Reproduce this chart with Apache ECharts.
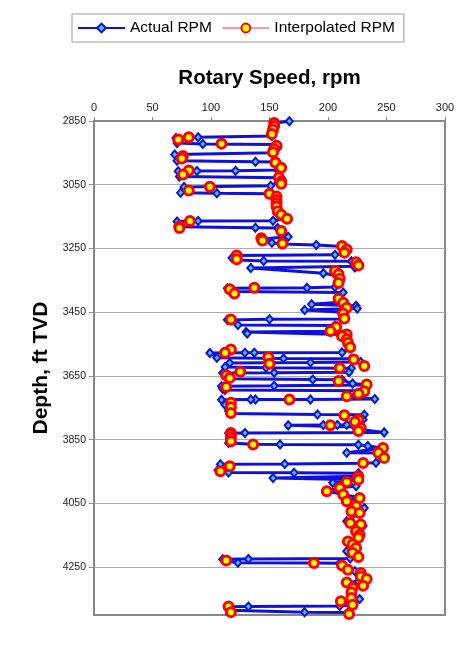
<!DOCTYPE html>
<html><head><meta charset="utf-8">
<script src="https://cdn.jsdelivr.net/npm/echarts@6/dist/echarts.min.js"></script>
<style>html,body{margin:0;padding:0;background:#fff}#c{width:474px;height:645px}</style>
</head><body><div id="c"></div>
<script>
// Actual RPM (blue diamonds), in depth order
const actualDepth = [
2851,2856,2875,2897,2901,2903,2919,2922,2924,2935,2950,2955,2975,2978,2979,2995,3004,3006,3007,3008,
3024,3028,3040,3053,3057,3075,3077,3078,3090,3110,3130,3145,3157,3163,3164,3165,3182,3185,3186,3195,
3213,3220,3232,3236,3239,
3244,3258,3265,3270,3272,3280,3286,3289,3290,3298,3306,3310,3311,3328,3335,3348,3360,3371,3373,3375,
3385,3388,3405,3418,3425,3430,3438,3443,3450,3466,3471,3472,3474,3490,3492,3500,3510,3512,3517,3520,
3535,3550,3562,3576,3577,3577,3578,3593,3595,3596,3600,3606,3608,3609,3622,3624,3626,3638,3640,3641,
3650,3659,3661,3662,3674,3678,3681,3682,3690,3694,3696,3706,3713,3722,3724,3724,3724,3725,3740,3760,
3768,3771,3772,3785,3787,3803,3804,3804,3805,3810,3818,3827,3829,3830,
3845,3860,3864,3865,3866,3870,3876,3891,3892,3905,3922,3924,3926,3927,3945,3953,3954,3955,3965,3970,
3976,3985,3986,3996,4001,4011,4022,4032,4043,
4058,4064,4075,4080,4106,4111,4121,4137,4148,4158,4169,4179,4190,4200,4205,4218,4223,4224,4225,4230,
4236,4237,4238,4245,4258,4263,4270,4279,4287,4294,4298,4308,4315,4329,4347,4350,4357,4368,4372,4373,
4374,4385,4390,4391,4392,4397
];
const actualRpm = [
167,155,153,152,89,70,71,93,155,157,153,69,71,138,156,160,157,121,88,72,
73,160,158,151,77,74,105,150,156,156,157,160,165,153,89,71,72,138,157,160,
166,143,152,160,190,
213,216,214,206,120,118,122,145,220,225,224,223,134,196,207,210,208,206,182,114,
118,213,210,213,186,224,225,180,213,214,212,150,114,123,206,207,203,130,131,212,
216,218,219,212,137,129,99,105,162,220,223,228,185,116,112,147,220,218,154,110,
113,116,187,212,221,234,154,109,110,112,231,226,216,240,185,138,134,109,112,115,
117,191,231,226,230,216,208,196,166,223,228,248,129,115,
117,115,136,159,226,234,247,216,243,248,241,230,163,108,106,115,171,226,226,153,
226,204,216,224,210,199,213,227,216,
224,231,220,227,216,219,230,224,227,226,217,221,224,216,221,226,219,132,110,112,
123,188,210,212,217,223,228,228,233,226,216,230,221,220,220,227,211,221,210,132,
114,116,117,180,217,218
];
// Interpolated RPM (red/yellow circles)
const interpDepth = [
2856,2866,2877,2891,2901,2908,2921,2928,2938,2948,2960,2968,2980,2997,3005,3018,3027,3040,3047,3056,
3068,3078,3087,3098,3108,3118,3133,3144,3157,3164,3180,3186,3195,3218,3225,3234,
3242,3253,3263,3272,3284,3293,3303,3321,3331,3345,3358,3373,3378,3391,3408,3420,3436,3454,3470,3473,
3496,3509,3520,
3525,3535,3546,3560,3567,3577,3591,3598,3612,3619,3625,3637,3648,3656,3666,3677,3685,3698,3706,3714,
3724,3734,3748,3766,3773,3787,3794,3805,3813,3823,3829,
3834,3844,3855,3865,3876,3891,3907,3923,3933,3949,3965,3975,3983,4001,4012,4022,4033,4043,
4059,4075,4080,4111,4116,4137,4148,4158,4169,4179,4190,4205,4218,4229,4237,4245,4258,4268,4279,4287,
4298,4308,4315,4329,4347,4357,4368,4373,4391,4397
];
const interpRpm = [
154,154,153,152,81,72,109,156,154,153,76,75,155,160,81,76,158,160,160,99,
81,150,156,156,156,156,157,160,165,82,73,73,160,143,144,161,
212,216,214,122,122,224,226,206,209,210,209,137,116,120,209,213,216,213,214,117,
207,202,216,
212,216,217,219,117,112,149,222,150,231,210,125,113,116,209,233,113,231,226,216,
167,117,117,117,214,226,223,202,228,226,117,
117,117,117,136,247,243,248,230,116,108,226,226,216,210,199,213,227,216,
224,220,227,219,228,224,227,226,217,221,224,221,226,113,188,212,217,228,228,233,
216,230,221,220,220,211,221,115,117,218
];
const depthTicks = [2850,3050,3250,3450,3650,3850,4050,4250];
const rpmMin = 0, rpmMax = 300, rpmStep = 50;
const depthMin = 2850, depthMax = 4400;

const font = '"Liberation Sans", Arial, sans-serif';
const actualData = actualDepth.map((d, i) => [actualRpm[i], d]);
const interpData = interpDepth.map((d, i) => [interpRpm[i], d]);

const chart = echarts.init(document.getElementById('c'), null, {renderer: 'canvas'});
chart.setOption({
  animation: false,
  backgroundColor: '#fff',
  legend: {
    left: 72, top: 14,
    padding: [6, 9, 6, 5],
    itemGap: 10, itemWidth: 47, itemHeight: 11,
    borderColor: '#999', borderWidth: 1,
    textStyle: {fontFamily: font, fontSize: 15.5, color: '#000'},
    data: [
      {name: 'Actual RPM'},
      {name: 'Interpolated RPM', lineStyle: {color: '#ff3030', width: 1, opacity: 1}}
    ]
  },
  grid: {left: 94, right: 29, top: 121, bottom: 30, show: true, borderColor: '#888', borderWidth: 2},
  xAxis: {
    type: 'value', position: 'top', min: rpmMin, max: rpmMax, interval: rpmStep,
    name: 'Rotary Speed, rpm', nameLocation: 'middle', nameGap: 32,
    nameTextStyle: {fontFamily: font, fontSize: 20.5, fontWeight: 'bold', color: '#000'},
    axisLine: {show: true, lineStyle: {color: '#888', width: 2}},
    axisTick: {show: true, length: 4, lineStyle: {color: '#888'}},
    axisLabel: {fontFamily: font, fontSize: 11, color: '#222', margin: 8},
    splitLine: {show: false}
  },
  yAxis: {
    type: 'value', inverse: true, min: depthMin, max: depthMax,
    name: 'Depth, ft TVD', nameLocation: 'middle', nameGap: 40, nameRotate: 90,
    nameTextStyle: {fontFamily: font, fontSize: 21, fontWeight: 'bold', color: '#000'},
    axisLine: {show: true, lineStyle: {color: '#888', width: 2}},
    axisTick: {show: true, length: 5, customValues: depthTicks, lineStyle: {color: '#888'}},
    axisLabel: {customValues: depthTicks, formatter: v => String(v), fontFamily: font, fontSize: 10.5, color: '#222', margin: 8},
    splitLine: {show: true, lineStyle: {color: '#aaa', width: 1}}
  },
  series: [
    {
      name: 'Actual RPM', type: 'line', data: actualData,
      symbol: 'diamond', symbolSize: [7, 8], showSymbol: true, showAllSymbol: true,
      lineStyle: {color: '#1010dd', width: 3},
      itemStyle: {color: '#40c8ff', borderColor: '#1010dd', borderWidth: 2},
      z: 2
    },
    {
      name: 'Interpolated RPM', type: 'line', data: interpData,
      symbol: 'circle', symbolSize: 9, showSymbol: true, showAllSymbol: true,
      lineStyle: {color: '#ff3030', width: 0, opacity: 0},
      itemStyle: {color: '#ffff00', borderColor: '#ff0000', borderWidth: 3},
      z: 3
    }
  ]
});
</script>
</body></html>
